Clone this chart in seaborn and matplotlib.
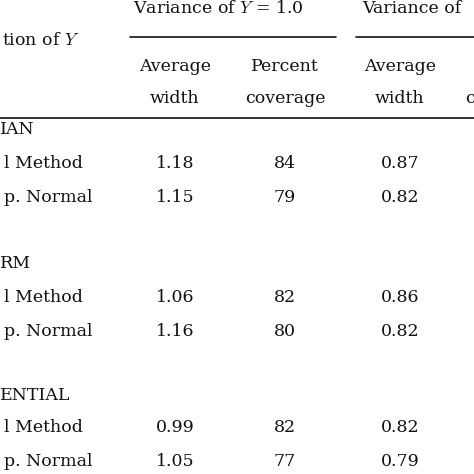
import matplotlib
matplotlib.use("Agg")
import matplotlib.pyplot as plt
import seaborn as sns

sns.set_theme(style="white")
plt.rcParams['font.family'] = ['DejaVu Serif']
plt.rcParams['mathtext.fontset'] = 'cm'

groups = ["IAN", "RM", "ENTIAL"]
methods = ["l Method", "p. Normal"]
width_v1 = [[1.18, 1.15], [1.06, 1.16], [0.99, 1.05]]
cover_v1 = [[84, 79], [82, 80], [82, 77]]
width_v2 = [[0.87, 0.82], [0.86, 0.82], [0.82, 0.79]]

fig = plt.figure(figsize=(4.74, 4.74), dpi=100)
ax = fig.add_axes([0, 0, 1, 1])
ax.set_xlim(0, 474); ax.set_ylim(474, 0); ax.axis('off')
fs = 12.5
kw = dict(fontsize=fs, color='#111111', va='center')

ax.text(218, 8, r"Variance of $Y$ = 1.0", ha='center', **kw)
ax.text(362, 8, r"Variance of", ha='left', **kw)
ax.plot([130, 336], [37, 37], color='#111', lw=1.2)
ax.plot([356, 474], [37, 37], color='#111', lw=1.2)
ax.text(2, 40, r"tion of $Y$", ha='left', **kw)
ax.text(175, 66, "Average", ha='center', **kw)
ax.text(175, 98, "width", ha='center', **kw)
ax.text(285, 66, "Percent", ha='center', **kw)
ax.text(285, 98, "coverage", ha='center', **kw)
ax.text(400, 66, "Average", ha='center', **kw)
ax.text(400, 98, "width", ha='center', **kw)
ax.text(470, 98, "c", ha='center', **kw)
ax.plot([0, 474], [118, 118], color='#111', lw=1.2)

group_y = [130, 264, 396]
for gi, g in enumerate(groups):
    y0 = group_y[gi]
    ax.text(0, y0, g, ha='left', **kw)
    for mi, m in enumerate(methods):
        y = y0 + 34 * (mi + 1) - (2 if gi == 2 else 0)
        ax.text(4, y, m, ha='left', **kw)
        ax.text(175, y, f"{width_v1[gi][mi]:.2f}", ha='center', **kw)
        ax.text(285, y, f"{cover_v1[gi][mi]}", ha='center', **kw)
        ax.text(400, y, f"{width_v2[gi][mi]:.2f}", ha='center', **kw)

fig.savefig("out.png", dpi=100, facecolor='white')
